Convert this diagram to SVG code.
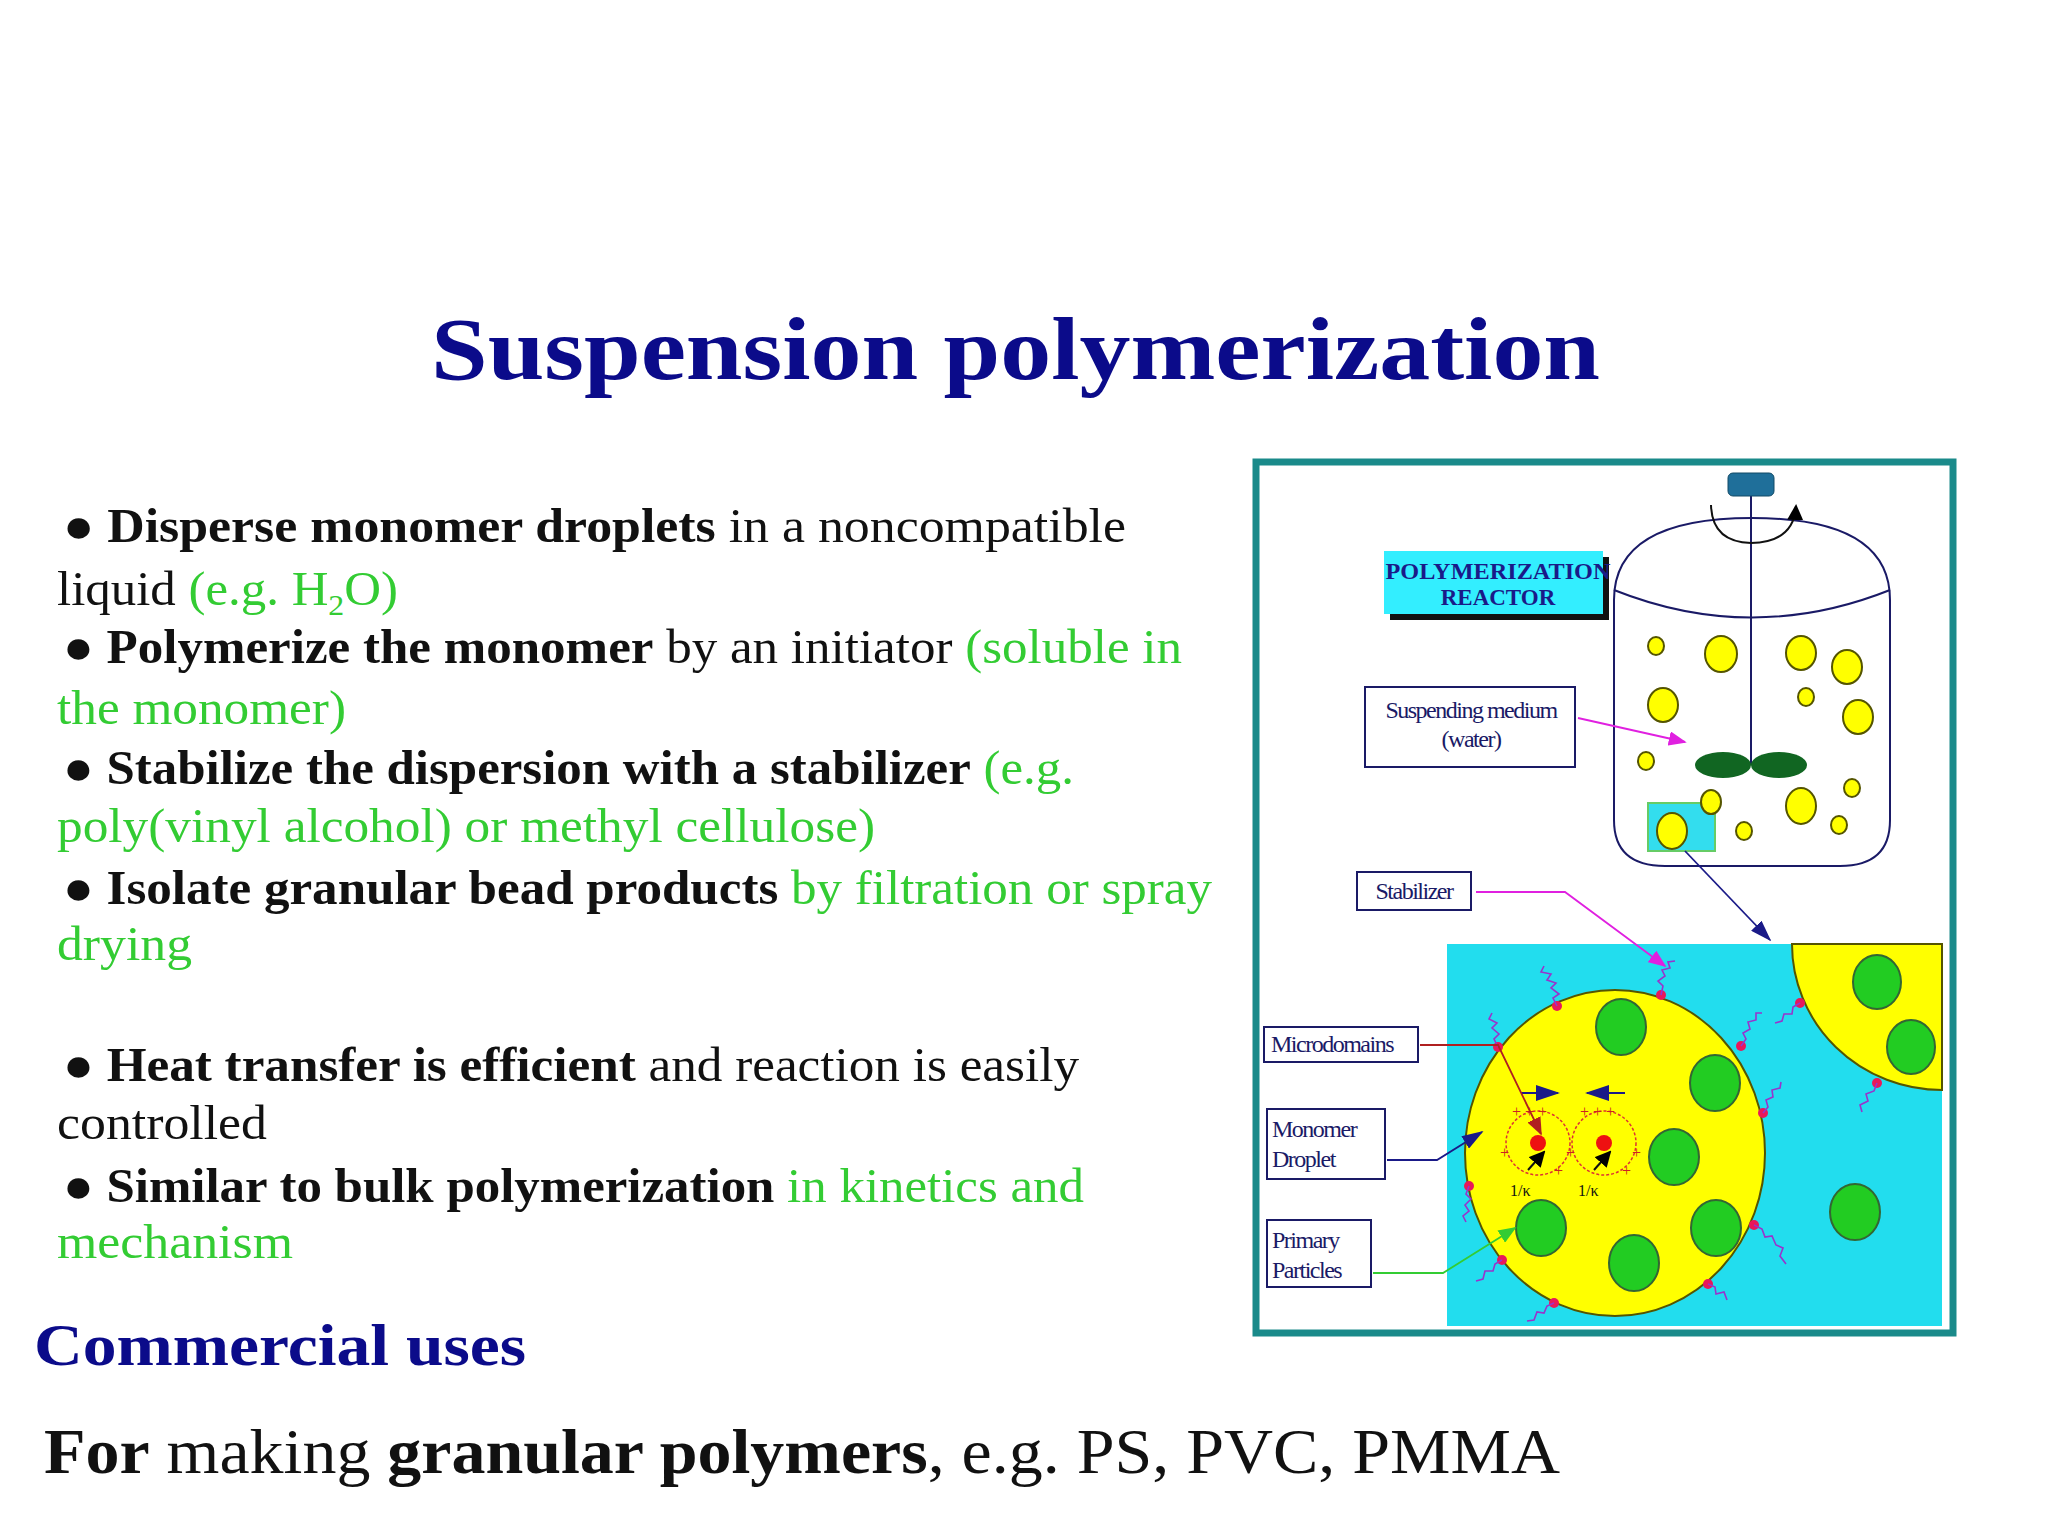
<svg xmlns="http://www.w3.org/2000/svg" width="2048" height="1536" viewBox="0 0 2048 1536">
<style>
.t{font-family:"Liberation Serif","Times New Roman",serif}
.body{font-size:48px;fill:#111}
.b{font-weight:bold}
.g{fill:#33cc33}
.lbl{font-family:"Liberation Serif",serif;font-size:24px;fill:#1a1a66;letter-spacing:-1.5px}
.box{fill:#fff;stroke:#1a1a66;stroke-width:2}
.yel{fill:#ffff00;stroke:#555500;stroke-width:2}
.grn{fill:#22cc22;stroke:#336633;stroke-width:2}
.rd{fill:#e8185a}
.tail{fill:none;stroke:#9933cc;stroke-width:1.6}
</style>
<defs>
<marker id="am" markerWidth="10" markerHeight="8" refX="9" refY="4" orient="auto"><path d="M0,0L10,4L0,8z" fill="#e020e0"/></marker>
<marker id="an" markerWidth="12" markerHeight="8" refX="11" refY="4" orient="auto"><path d="M0,0L12,4L0,8z" fill="#1a1a88"/></marker>
<marker id="ar" markerWidth="10" markerHeight="8" refX="9" refY="4" orient="auto"><path d="M0,0L10,4L0,8z" fill="#b02020"/></marker>
<marker id="ag" markerWidth="10" markerHeight="8" refX="9" refY="4" orient="auto"><path d="M0,0L10,4L0,8z" fill="#33cc33"/></marker>
<marker id="ak" markerWidth="8" markerHeight="8" refX="7" refY="4" orient="auto"><path d="M0,0L8,4L0,8z" fill="#000"/></marker>
</defs>
<rect width="2048" height="1536" fill="#fff"/>
<text class="t b" x="431" y="379" font-size="88" fill="#0b0b8a" textLength="1169" lengthAdjust="spacingAndGlyphs">Suspension polymerization</text>

<g id="bullets" class="t body">
<text x="63" y="542" textLength="1063" lengthAdjust="spacingAndGlyphs"><tspan class="b">● Disperse monomer droplets</tspan> in a noncompatible</text>
<text x="57" y="605" textLength="341" lengthAdjust="spacingAndGlyphs">liquid <tspan class="g">(e.g. H</tspan><tspan class="g" font-size="30" dy="10">2</tspan><tspan class="g" dy="-10">O)</tspan></text>
<text x="63" y="663" textLength="1119" lengthAdjust="spacingAndGlyphs"><tspan class="b">● Polymerize the monomer</tspan> by an initiator <tspan class="g">(soluble in</tspan></text>
<text x="57" y="724" class="g" textLength="289" lengthAdjust="spacingAndGlyphs">the monomer)</text>
<text x="63" y="784" textLength="1011" lengthAdjust="spacingAndGlyphs"><tspan class="b">● Stabilize the dispersion with a stabilizer</tspan> <tspan class="g">(e.g.</tspan></text>
<text x="57" y="842" class="g" textLength="818" lengthAdjust="spacingAndGlyphs">poly(vinyl alcohol) or methyl cellulose)</text>
<text x="63" y="904" textLength="1149" lengthAdjust="spacingAndGlyphs"><tspan class="b">● Isolate granular bead products</tspan> <tspan class="g">by filtration or spray</tspan></text>
<text x="57" y="960" class="g" textLength="135" lengthAdjust="spacingAndGlyphs">drying</text>
<text x="63" y="1081" textLength="1016" lengthAdjust="spacingAndGlyphs"><tspan class="b">● Heat transfer is efficient</tspan> and reaction is easily</text>
<text x="57" y="1139" textLength="210" lengthAdjust="spacingAndGlyphs">controlled</text>
<text x="63" y="1202" textLength="1021" lengthAdjust="spacingAndGlyphs"><tspan class="b">● Similar to bulk polymerization</tspan> <tspan class="g">in kinetics and</tspan></text>
<text x="57" y="1258" class="g" textLength="236" lengthAdjust="spacingAndGlyphs">mechanism</text>
</g>
<text class="t b" x="34" y="1365" font-size="60" fill="#0b0b8a" textLength="492" lengthAdjust="spacingAndGlyphs">Commercial uses</text>
<text class="t" x="44" y="1473" font-size="64" fill="#111" textLength="1516" lengthAdjust="spacingAndGlyphs"><tspan font-weight="bold">For</tspan> making <tspan font-weight="bold">granular polymers</tspan>, e.g. PS, PVC, PMMA</text>

<g id="diagram">
<rect x="1256" y="462" width="697" height="871" fill="#fff" stroke="#1a8a8a" stroke-width="7"/>
<g id="reactor">
<path d="M1614,600 Q1614,518 1752,518 Q1890,518 1890,600 L1890,820 Q1890,866 1840,866 L1665,866 Q1614,866 1614,820 Z" fill="none" stroke="#1a1a66" stroke-width="2"/>
<path d="M1614,590 Q1752,645 1890,590" fill="none" stroke="#1a1a66" stroke-width="2"/>
<line x1="1751" y1="494" x2="1751" y2="765" stroke="#1a1a66" stroke-width="2"/>
<rect x="1728" y="473" width="46" height="23" rx="5" fill="#1f6f9a" stroke="#124a66"/>
<path d="M1711,505 Q1712,542 1751,543 Q1794,542 1796,506" fill="none" stroke="#111" stroke-width="2" marker-end="url(#ak)"/>
<rect x="1648" y="803" width="67" height="48" fill="#33ddee" stroke="#66cc66" stroke-width="2"/>
<ellipse class="yel" cx="1656" cy="646" rx="8" ry="9"/>
<ellipse class="yel" cx="1721" cy="654" rx="16" ry="18"/>
<ellipse class="yel" cx="1801" cy="653" rx="15" ry="17"/>
<ellipse class="yel" cx="1847" cy="667" rx="15" ry="17"/>
<ellipse class="yel" cx="1663" cy="705" rx="15" ry="17"/>
<ellipse class="yel" cx="1806" cy="697" rx="8" ry="9"/>
<ellipse class="yel" cx="1858" cy="717" rx="15" ry="17"/>
<ellipse class="yel" cx="1646" cy="761" rx="8" ry="9"/>
<ellipse class="yel" cx="1711" cy="802" rx="10" ry="12"/>
<ellipse class="yel" cx="1801" cy="806" rx="15" ry="18"/>
<ellipse class="yel" cx="1852" cy="788" rx="8" ry="9"/>
<ellipse class="yel" cx="1744" cy="831" rx="8" ry="9"/>
<ellipse class="yel" cx="1839" cy="825" rx="8" ry="9"/>
<ellipse class="yel" cx="1672" cy="831" rx="15" ry="18"/>
<ellipse cx="1723" cy="765" rx="28" ry="13" fill="#116622"/>
<ellipse cx="1779" cy="765" rx="28" ry="13" fill="#116622"/>
</g>
<g id="title-box">
<rect x="1390" y="557" width="219" height="63" fill="#111"/>
<rect x="1384" y="551" width="219" height="63" fill="#33eeff"/>
<text class="t b" x="1498" y="579" font-size="23" fill="#1a1a88" text-anchor="middle" textLength="225" lengthAdjust="spacingAndGlyphs">POLYMERIZATION</text>
<text class="t b" x="1498" y="605" font-size="23" fill="#1a1a88" text-anchor="middle">REACTOR</text>
</g>
<g id="susp">
<rect class="box" x="1365" y="687" width="210" height="80"/>
<text class="lbl" x="1471" y="718" text-anchor="middle">Suspending medium</text>
<text class="lbl" x="1471" y="747" text-anchor="middle">(water)</text>
</g>
<g id="stab">
<rect class="box" x="1357" y="872" width="114" height="38"/>
<text class="lbl" x="1414" y="899" text-anchor="middle">Stabilizer</text>
</g>
<rect x="1447" y="944" width="495" height="382" fill="#22ddee"/>
<path d="M1942,944 L1792,944 A150,146 0 0 0 1942,1090 Z" fill="#ffff00" stroke="#555500" stroke-width="2"/>
<ellipse class="grn" cx="1877" cy="982" rx="24" ry="27"/>
<ellipse class="grn" cx="1911" cy="1047" rx="24" ry="27"/>
<ellipse class="yel" cx="1615" cy="1153" rx="150" ry="163"/>
<ellipse class="grn" cx="1621" cy="1027" rx="25" ry="28"/>
<ellipse class="grn" cx="1715" cy="1083" rx="25" ry="28"/>
<ellipse class="grn" cx="1674" cy="1157" rx="25" ry="28"/>
<ellipse class="grn" cx="1541" cy="1228" rx="25" ry="28"/>
<ellipse class="grn" cx="1634" cy="1263" rx="25" ry="28"/>
<ellipse class="grn" cx="1716" cy="1228" rx="25" ry="28"/>
<ellipse class="grn" cx="1855" cy="1212" rx="25" ry="28"/>
<g id="micro">
<circle cx="1538" cy="1143" r="32" fill="none" stroke="#dd3333" stroke-width="1.5" stroke-dasharray="3 2"/>
<circle cx="1604" cy="1143" r="32" fill="none" stroke="#dd3333" stroke-width="1.5" stroke-dasharray="3 2"/>
<circle cx="1538" cy="1143" r="8" fill="#ee1111"/>
<circle cx="1604" cy="1143" r="8" fill="#ee1111"/>
<line x1="1521" y1="1093" x2="1558" y2="1093" stroke="#1a1a88" stroke-width="2" marker-end="url(#an)"/>
<line x1="1625" y1="1093" x2="1587" y2="1093" stroke="#1a1a88" stroke-width="2" marker-end="url(#an)"/>
<line x1="1528" y1="1170" x2="1544" y2="1152" stroke="#111" stroke-width="2" marker-end="url(#ak)"/>
<line x1="1594" y1="1170" x2="1610" y2="1152" stroke="#111" stroke-width="2" marker-end="url(#ak)"/>
<g font-family="Liberation Serif,serif" font-size="16" fill="#cc2222">
<text x="1512" y="1117">+ + +</text><text x="1580" y="1117">+ + +</text>
<text x="1500" y="1158">+</text><text x="1566" y="1158">+</text><text x="1632" y="1158">+</text>
<text x="1554" y="1176">+</text><text x="1622" y="1176">+</text>
</g>
<text x="1510" y="1196" font-family="Liberation Serif,serif" font-size="16" fill="#111">1/κ</text>
<text x="1578" y="1196" font-family="Liberation Serif,serif" font-size="16" fill="#111">1/κ</text>
</g>
<g id="anchors">
<circle class="rd" cx="1557" cy="1006" r="5"/><circle class="rd" cx="1661" cy="995" r="5"/>
<circle class="rd" cx="1741" cy="1046" r="5"/><circle class="rd" cx="1498" cy="1047" r="5"/>
<circle class="rd" cx="1763" cy="1113" r="5"/><circle class="rd" cx="1469" cy="1186" r="5"/>
<circle class="rd" cx="1754" cy="1225" r="5"/><circle class="rd" cx="1502" cy="1260" r="5"/>
<circle class="rd" cx="1554" cy="1303" r="5"/><circle class="rd" cx="1708" cy="1284" r="5"/>
<circle class="rd" cx="1800" cy="1003" r="5"/><circle class="rd" cx="1877" cy="1083" r="5"/>
<path class="tail" d="M1557,1006 l-4,-8 6,-4 -8,-6 5,-5 -9,-3 4,-6 -10,-2 3,-6"/>
<path class="tail" d="M1661,995 l2,-9 -5,-5 7,-5 -3,-6 8,-2 -2,-6 7,-1"/>
<path class="tail" d="M1741,1046 l5,-7 -3,-6 7,-4 -2,-7 8,-2 0,-7 6,0"/>
<path class="tail" d="M1498,1047 l-4,-8 5,-5 -7,-6 5,-5 -8,-4 3,-6"/>
<path class="tail" d="M1763,1113 l5,-6 -2,-7 7,-3 -1,-7 8,-2 1,-6"/>
<path class="tail" d="M1469,1186 l-3,8 5,5 -6,6 4,6 -6,5 3,6"/>
<path class="tail" d="M1754,1225 l8,4 3,8 7,-1 4,9 7,3 -3,8 6,8"/>
<path class="tail" d="M1502,1260 l-7,4 -2,7 -8,0 -2,8 -7,2"/>
<path class="tail" d="M1554,1303 l-7,3 -3,7 -7,-1 -3,8 -7,1"/>
<path class="tail" d="M1708,1284 l7,3 1,7 8,-2 3,8"/>
<path class="tail" d="M1800,1003 l-7,4 -1,7 -8,0 -2,7 -7,2"/>
<path class="tail" d="M1877,1083 l-3,8 -8,3 2,7 -8,4 2,7"/>
</g>
<g id="micro-label">
<rect class="box" x="1264" y="1027" width="154" height="35"/>
<text class="lbl" x="1271" y="1052">Microdomains</text>
</g>
<g id="droplet-label">
<rect class="box" x="1267" y="1109" width="118" height="70"/>
<text class="lbl" x="1272" y="1137">Monomer</text>
<text class="lbl" x="1272" y="1167">Droplet</text>
</g>
<g id="primary-label">
<rect class="box" x="1267" y="1220" width="104" height="67"/>
<text class="lbl" x="1272" y="1248">Primary</text>
<text class="lbl" x="1272" y="1278">Particles</text>
</g>
<g id="connectors" fill="none" stroke-width="1.8">
<polyline points="1578,718 1685,742" stroke="#e020e0" marker-end="url(#am)"/>
<polyline points="1476,892 1565,892 1665,966" stroke="#e020e0" marker-end="url(#am)"/>
<polyline points="1685,851 1770,940" stroke="#1a1a88" marker-end="url(#an)"/>
<polyline points="1420,1045 1498,1045 1541,1134" stroke="#b02020" marker-end="url(#ar)"/>
<polyline points="1387,1160 1437,1160 1482,1132" stroke="#1a1a88" marker-end="url(#an)"/>
<polyline points="1373,1273 1443,1273 1515,1228" stroke="#33cc33" marker-end="url(#ag)"/>
</g>
</g>
</svg>
